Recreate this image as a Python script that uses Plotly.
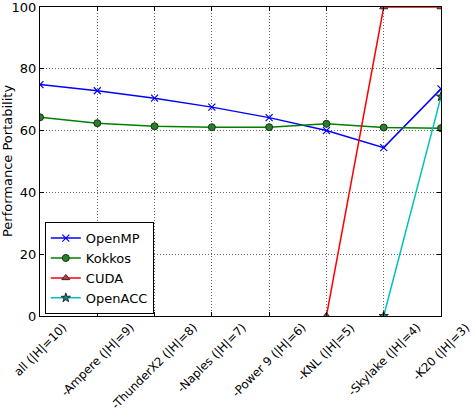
import plotly.graph_objects as go

categories = ["all (|H|=10)", "-Ampere (|H|=9)", "-ThunderX2 (|H|=8)", "-Naples (|H|=7)",
              "-Power 9 (|H|=6)", "-KNL (|H|=5)", "-Skylake (|H|=4)", "-K20 (|H|=3)"]
openmp = [74.9, 72.9, 70.5, 67.6, 64.2, 60.0, 54.5, 73.5]
kokkos = [64.3, 62.4, 61.4, 61.1, 61.1, 62.2, 61.0, 60.8]
cuda = [None, None, None, None, None, 0, 100, 100]
openacc = [None, None, None, None, None, None, 0, 71]
yticks = [0, 20, 40, 60, 80, 100]

FONT = "DejaVu Sans"
fig = go.Figure()
fig.add_trace(go.Scatter(x=categories, y=openmp, name="OpenMP", mode="lines+markers",
                         line=dict(color="#0000ff", width=1.5),
                         marker=dict(symbol="x-thin", size=7, color="#0000ff",
                                     line=dict(color="#0000ff", width=1.2))))
fig.add_trace(go.Scatter(x=categories, y=kokkos, name="Kokkos", mode="lines+markers",
                         line=dict(color="#008000", width=1.5),
                         marker=dict(symbol="circle", size=7, color="#2e7d2e",
                                     line=dict(color="#0a3a0a", width=1))))
fig.add_trace(go.Scatter(x=categories, y=cuda, name="CUDA", mode="lines+markers",
                         line=dict(color="#ff0000", width=1.5),
                         marker=dict(symbol="triangle-up", size=7, color="#c04040",
                                     line=dict(color="#402020", width=1))))
fig.add_trace(go.Scatter(x=categories, y=openacc, name="OpenACC", mode="lines+markers",
                         line=dict(color="#00bfbf", width=1.5),
                         marker=dict(symbol="star", size=7, color="#1a7f7f",
                                     line=dict(color="#203030", width=1))))

# Rotated category labels centred on their ticks (matplotlib style)
annotations = []
for c in categories:
    annotations.append(dict(x=c, xref="x", y=0, yref="paper", yanchor="top", xanchor="center",
                            yshift=-2, text=c, textangle=-45, showarrow=False,
                            font=dict(family=FONT, size=11.8, color="black")))
annotations.append(dict(x=-0.081, xref="paper", y=0.5, yref="paper", xanchor="center",
                        yanchor="middle", text="Performance Portability", textangle=-90,
                        showarrow=False, font=dict(family=FONT, size=13, color="black")))

fig.update_layout(
    width=474, height=414,
    margin=dict(l=40, r=33, t=7, b=98),
    paper_bgcolor="white", plot_bgcolor="white",
    font=dict(family=FONT, size=13, color="black"),
    showlegend=True,
    annotations=annotations,
    legend=dict(x=0.012, y=0.006, xanchor="left", yanchor="bottom",
                bordercolor="black", borderwidth=1, bgcolor="white",
                font=dict(size=13), tracegroupgap=0),
)
fig.update_xaxes(type="category", categoryorder="array", categoryarray=categories,
                 range=[0, 7], showticklabels=False, ticks="inside", ticklen=4, tickcolor="black",
                 showgrid=True, gridcolor="#666666", griddash="1px,2px", gridwidth=1,
                 showline=True, linecolor="black", linewidth=1, mirror="ticks",
                 automargin=False, zeroline=False)
fig.update_yaxes(range=[0, 100], tickvals=yticks, ticks="inside", ticklen=4, tickcolor="black",
                 showgrid=True, gridcolor="#666666", griddash="1px,2px", gridwidth=1,
                 showline=True, linecolor="black", linewidth=1, mirror="ticks",
                 ticklabeloverflow="allow",
                 tickfont=dict(size=13), automargin=False, zeroline=False)

fig.write_html("out.html")
